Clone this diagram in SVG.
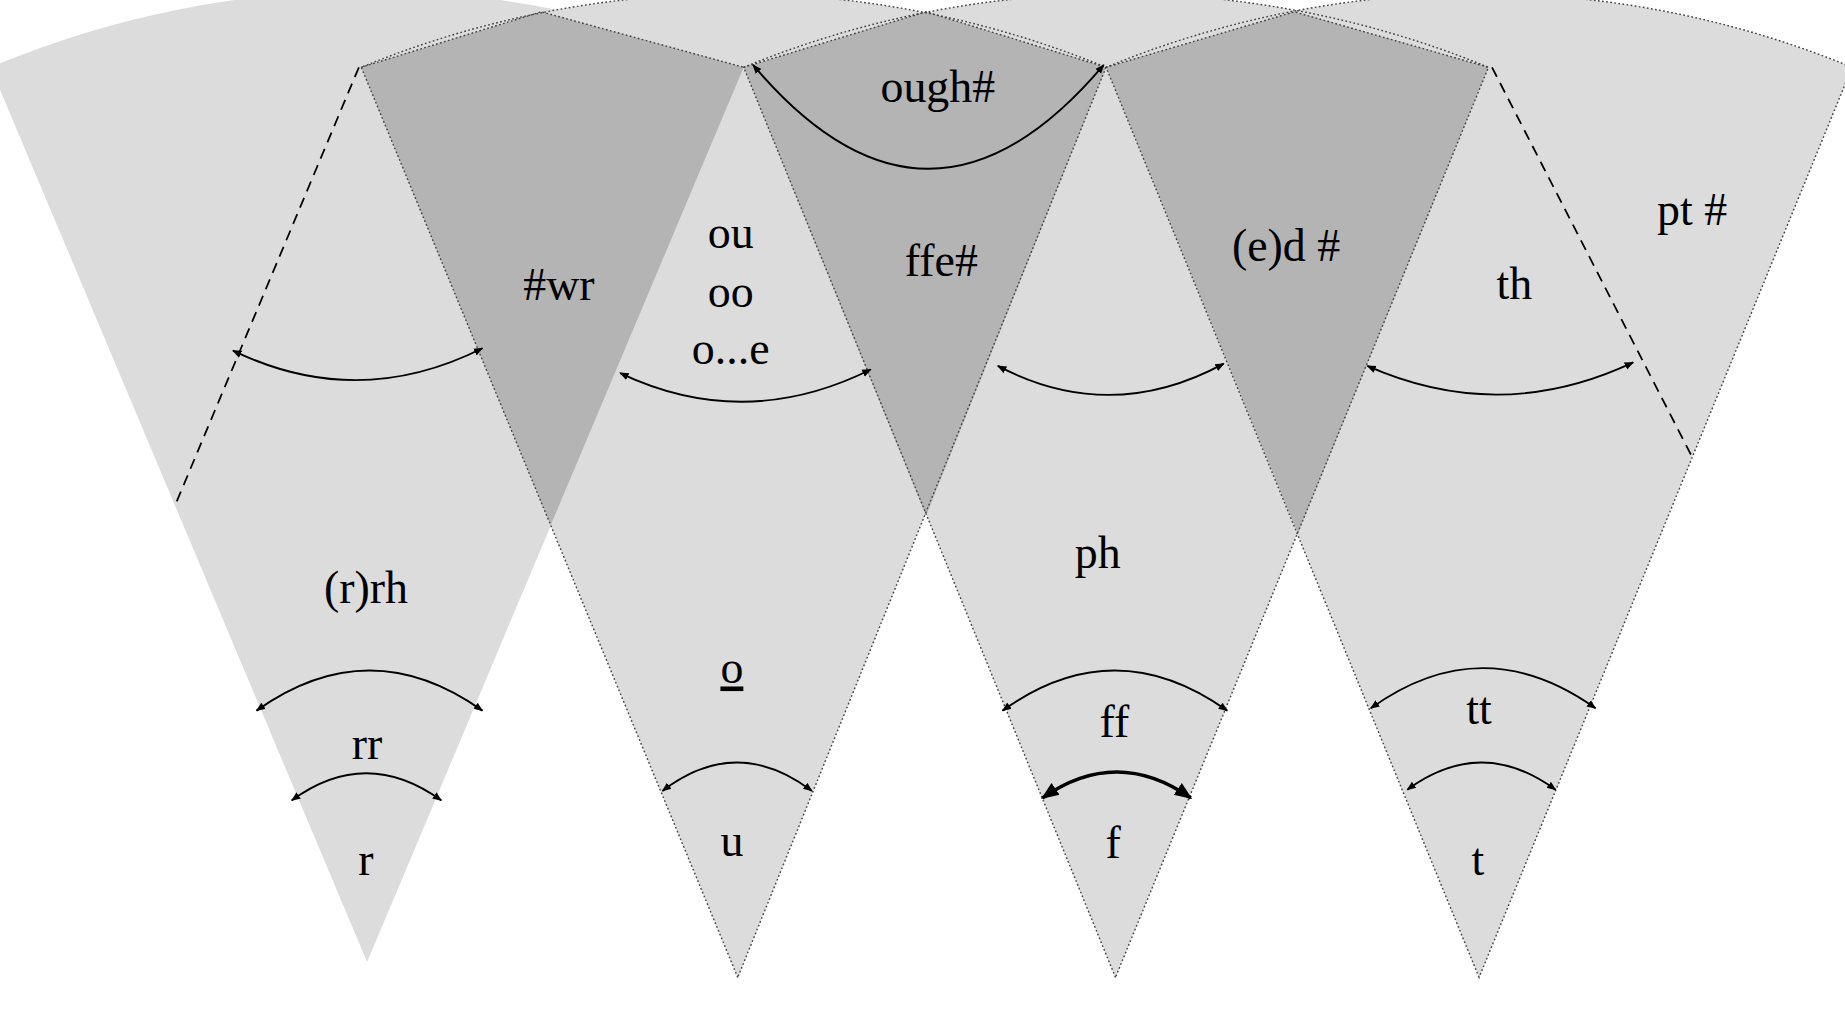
<svg xmlns="http://www.w3.org/2000/svg" width="1845" height="1027" viewBox="0 0 1845 1027">
<style>
.fan{fill:#dcdcdc;stroke:none}
.dark{fill:#b4b4b4;stroke:none}
.dot{fill:none;stroke:#444;stroke-width:1.2;stroke-dasharray:1.5 2}
.dash{fill:none;stroke:#000;stroke-width:1.5;stroke-dasharray:9 6}
.arr{fill:none;stroke:#000;stroke-width:1.6;marker-start:url(#ah);marker-end:url(#ah)}
.thick{stroke-width:3}
text{font-family:"Liberation Serif","Times New Roman",serif;font-size:39px;fill:#000;text-anchor:middle}
</style>
<defs>
<marker id="ah" viewBox="0 0 10 10" refX="9" refY="5" markerWidth="5" markerHeight="5" markerUnits="strokeWidth" orient="auto-start-reverse">
<path d="M0,1 L10,5 L0,9 Z" fill="#000"/>
</marker>
</defs>
<rect width="1845" height="1027" fill="#fff"/>
<g transform="scale(1.17666,1.18046)">
<g id="fan-r"><path class="fan" d="M312,815 L-8,57 A823,823 0 0 1 632,57 Z"/></g>
<g id="fan-u"><path class="fan" d="M627,828 L307,57 A835,835 0 0 1 940,57 Z"/></g>
<g id="fan-f"><path class="fan" d="M948,828 L632,57 A835,835 0 0 1 1265,57 Z"/></g>
<g id="fan-t"><path class="fan" d="M1257,828 L940,57 A835,835 0 0 1 1574,57 Z"/></g>
<g id="dark-wr"><path class="dark" d="M307,57 L460,10 L632,57 L468,445 Z"/><path class="dot" d="M307,57 L460,10 L632,57"/></g>
<g id="dark-ough"><path class="dark" d="M632,57 L787,10 L940,57 L787,437 Z"/><path class="dot" d="M632,57 L787,10 L940,57"/></g>
<g id="dark-ed"><path class="dark" d="M940,57 L1100,10 L1265,57 L1103,452 Z"/><path class="dot" d="M940,57 L1100,10 L1265,57"/></g>
<g id="outlines">
<path class="dot" d="M627,828 L307,57 A835,835 0 0 1 940,57 Z"/>
<path class="dot" d="M948,828 L632,57 A835,835 0 0 1 1265,57 Z"/>
<path class="dot" d="M1257,828 L940,57 A835,835 0 0 1 1574,57 Z"/>
</g>
<g id="connectors">
<path class="dash" d="M305,57 L148,430"/>
<path class="dash" d="M1268,57 L1437,385"/>
<path class="arr" d="M198,297 Q304,348 410,295"/>
<path class="arr" d="M527,316 Q633,366 740,313"/>
<path class="arr" d="M848,310 Q944,360 1040,308"/>
<path class="arr" d="M1162,310 Q1275,360 1388,307"/>
<path class="arr" d="M640,55 Q789,231 938,55"/>
<path class="arr" d="M218,602 Q314,534 410,602"/>
<path class="arr" d="M248,678 Q311,632 375,678"/>
<path class="arr" d="M563,670 Q626,622 690,670"/>
<path class="arr" d="M852,602 Q947,534 1043,602"/>
<path class="arr thick" d="M886,676 Q949,632 1012,676"/>
<path class="arr" d="M1165,600 Q1260,532 1356,600"/>
<path class="arr" d="M1196,669 Q1259,623 1322,669"/>
</g>
<g id="labels">
<text x="797" y="86">ough#</text>
<text x="475" y="254">#wr</text>
<text x="621" y="210">ou</text>
<text x="621" y="260">oo</text>
<text x="621" y="308">o...e</text>
<text x="800" y="234">ffe#</text>
<text x="1093" y="221">(e)d #</text>
<text x="1438" y="191">pt #</text>
<text x="1287" y="253">th</text>
<text x="311" y="511">(r)rh</text>
<text x="933" y="481">ph</text>
<text x="622" y="579" text-decoration="underline">o</text>
<text x="312" y="643">rr</text>
<text x="947" y="624">ff</text>
<text x="1257" y="613">tt</text>
<text x="311" y="741">r</text>
<text x="622" y="725">u</text>
<text x="946" y="727">f</text>
<text x="1256" y="741">t</text>
</g>
</g>
</svg>
